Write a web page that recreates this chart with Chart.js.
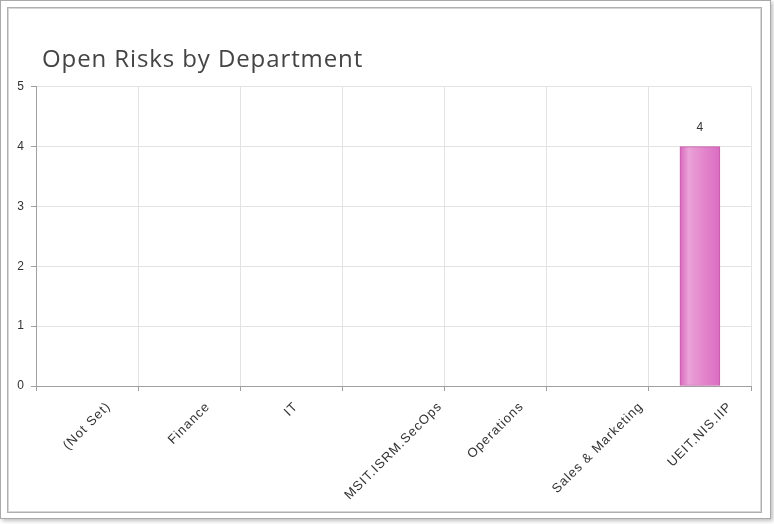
<!DOCTYPE html>
<html>
<head>
<meta charset="utf-8">
<script src="https://cdn.jsdelivr.net/npm/chart.js@4"></script>
<style>
html,body{margin:0;padding:0;background:#fff;width:774px;height:524px;overflow:hidden}
#outer{position:absolute;left:0;top:0;width:769px;height:517px;border:1px solid #a9a9a9;box-shadow:2px 2px 4px rgba(0,0,0,0.25);background:#fff}
#inner{position:absolute;left:7px;top:7px;width:753px;height:504px;border:1px solid #b0b0b0;box-shadow:inset 1px 1px 0 #d6d6d6, inset -1px -1px 0 #d6d6d6}
#c{position:absolute;left:0;top:0}
</style>
</head>
<body>
<div id="outer"></div>
<div id="inner"></div>
<canvas id="c" width="774" height="524"></canvas>
<script>
const categories = ['(Not Set)', 'Finance', 'IT', 'MSIT.ISRM.SecOps', 'Operations', 'Sales & Marketing', 'UEIT.NIS.IIP'];
const openRisks = [0, 0, 0, 0, 0, 0, 4];
const yMin = 0, yMax = 5, yStep = 1;
const chartTitle = 'Open Risks by Department';

const titleShift = {
  id: 'titleShift',
  afterLayout(chart) {
    const tb = chart.titleBlock;
    tb.left += 32;
    if (!tb._spaced) {
      const d = tb.draw;
      tb.draw = function (a) {
        const ctx = this.ctx;
        ctx.save();
        ctx.letterSpacing = '0.9px';
        d.call(this, a);
        ctx.restore();
      };
      tb._spaced = true;
    }
  }
};

const xLabels = {
  id: 'xLabels',
  afterDraw(chart) {
    const ctx = chart.ctx, xs = chart.scales.x;
    ctx.save();
    ctx.font = '13px "Liberation Sans", Arial, sans-serif';
    ctx.letterSpacing = '1px';
    ctx.fillStyle = '#333';
    ctx.textAlign = 'center';
    ctx.textBaseline = 'middle';
    categories.forEach((lab, i) => {
      const x = xs.getPixelForTick(i);
      const w = ctx.measureText(lab).width;
      const half = (w + 10) * Math.SQRT1_2 / 2;
      ctx.save();
      ctx.translate(x, xs.top + 15 + half);
      ctx.rotate(-Math.PI / 4);
      ctx.fillText(lab, 0, 0);
      ctx.restore();
    });
    ctx.restore();
  }
};

const valueLabels = {
  id: 'valueLabels',
  afterDatasetsDraw(chart) {
    const ctx = chart.ctx, meta = chart.getDatasetMeta(0);
    ctx.save();
    ctx.font = '12px "Liberation Sans", Arial, sans-serif';
    ctx.fillStyle = '#333';
    ctx.textAlign = 'center';
    ctx.textBaseline = 'middle';
    meta.data.forEach((bar, i) => {
      if (openRisks[i] > 0) ctx.fillText(String(openRisks[i]), bar.x, bar.y - 19);
    });
    ctx.restore();
  }
};

new Chart(document.getElementById('c'), {
  type: 'bar',
  data: {
    labels: categories,
    datasets: [{
      label: 'Open Risks',
      data: openRisks,
      barThickness: 40,
      borderWidth: 1,
      borderColor: '#c55aa9',
      borderSkipped: false,
      backgroundColor: (c) => {
        const xs = c.chart.scales && c.chart.scales.x;
        if (!xs || c.dataIndex === undefined) return '#e07cc8';
        const cx = xs.getPixelForValue(c.dataIndex);
        if (!isFinite(cx)) return '#e07cc8';
        const g = c.chart.ctx.createLinearGradient(cx - 20, 0, cx + 20, 0);
        g.addColorStop(0, '#d968bd');
        g.addColorStop(0.22, '#eaa3d8');
        g.addColorStop(0.35, '#e897d3');
        g.addColorStop(0.7, '#e17fc9');
        g.addColorStop(1, '#db6dc1');
        return g;
      }
    }]
  },
  options: {
    responsive: false,
    devicePixelRatio: 1,
    animation: false,
    layout: { padding: { left: 10, top: 0, right: 23, bottom: 10 } },
    plugins: {
      legend: { display: false },
      tooltip: { enabled: false },
      title: {
        display: true,
        text: chartTitle,
        align: 'start',
        color: '#444',
        font: { family: '"Open Sans", sans-serif', size: 24, weight: 'normal', lineHeight: 1.2 },
        padding: { top: 46, bottom: 12 }
      }
    },
    scales: {
      x: {
        type: 'category',
        offset: true,
        afterFit: (s) => { s.height = 128; },
        grid: { offset: true, color: '#e3e3e3', tickColor: '#a0a0a0', tickLength: 5, drawTicks: true },
        border: { color: '#a0a0a0' },
        ticks: { display: false }
      },
      y: {
        min: yMin, max: yMax,
        afterFit: (s) => { s.width = 26; },
        grid: { color: '#e3e3e3', tickColor: '#a0a0a0', tickLength: 5 },
        border: { color: '#a0a0a0' },
        ticks: { stepSize: yStep, padding: 7, color: '#333', font: { family: '"Liberation Sans", Arial, sans-serif', size: 12 } }
      }
    }
  },
  plugins: [titleShift, xLabels, valueLabels]
});
</script>
</body>
</html>
